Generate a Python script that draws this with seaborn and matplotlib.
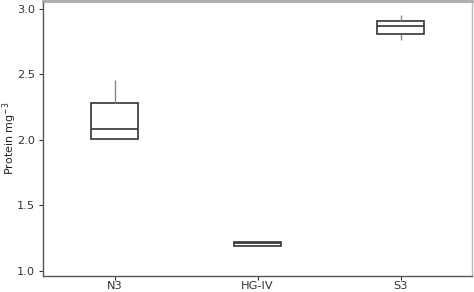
import matplotlib
matplotlib.use("Agg")
import matplotlib.pyplot as plt
import seaborn as sns
import pandas as pd

groups = ["N3", "HG-IV", "S3"]
n3_values = [2.01, 2.01, 2.08, 2.285, 2.458]
hg_values = [1.19, 1.19, 1.21, 1.224, 1.224]
s3_values = [2.763, 2.81, 2.87, 2.91, 2.957]

df = pd.DataFrame({
    "group": ["N3"] * len(n3_values) + ["HG-IV"] * len(hg_values) + ["S3"] * len(s3_values),
    "value": n3_values + hg_values + s3_values,
})

sns.set_style("white")
plt.rcParams["font.family"] = ["DejaVu Sans"]

fig = plt.figure(figsize=(4.74, 2.92), dpi=100)
ax = fig.add_axes([43 / 474, 16 / 292, 429 / 474, 275 / 292])

sns.boxplot(
    data=df, x="group", y="value", order=groups, ax=ax,
    width=0.33, whis=1.5, showfliers=False,
    boxprops=dict(facecolor="white", edgecolor="#333333", linewidth=1.2),
    medianprops=dict(color="#333333", linewidth=1.2),
    whiskerprops=dict(color="#888888", linewidth=1.0),
    capprops=dict(linewidth=0),
)

ax.set_ylim(0.962, 3.06)
ax.set_xlim(-0.5, 2.5)
ax.set_yticks([1.0, 1.5, 2.0, 2.5, 3.0])
ax.set_yticklabels(["1.0", "1.5", "2.0", "2.5", "3.0"])
ax.set_xlabel("")
ax.set_ylabel("Protein mg$^{-3}$", fontsize=8.0, color="#222222")
ax.yaxis.set_label_coords(-0.057, 0.5)
ax.tick_params(axis="both", labelsize=8.2, colors="#333333", length=3, width=0.8, direction="out", bottom=True, left=True, pad=2.5)
ax.tick_params(axis="x", pad=0.3, labelsize=8.2)
for side in ["left", "bottom"]:
    ax.spines[side].set_color("#555555")
    ax.spines[side].set_linewidth(1.0)
ax.spines["top"].set_color("#aaaaaa")
ax.spines["top"].set_linewidth(2.0)
ax.spines["right"].set_color("#bbbbbb")
ax.spines["right"].set_linewidth(1.0)

fig.savefig("out.png", dpi=100)
